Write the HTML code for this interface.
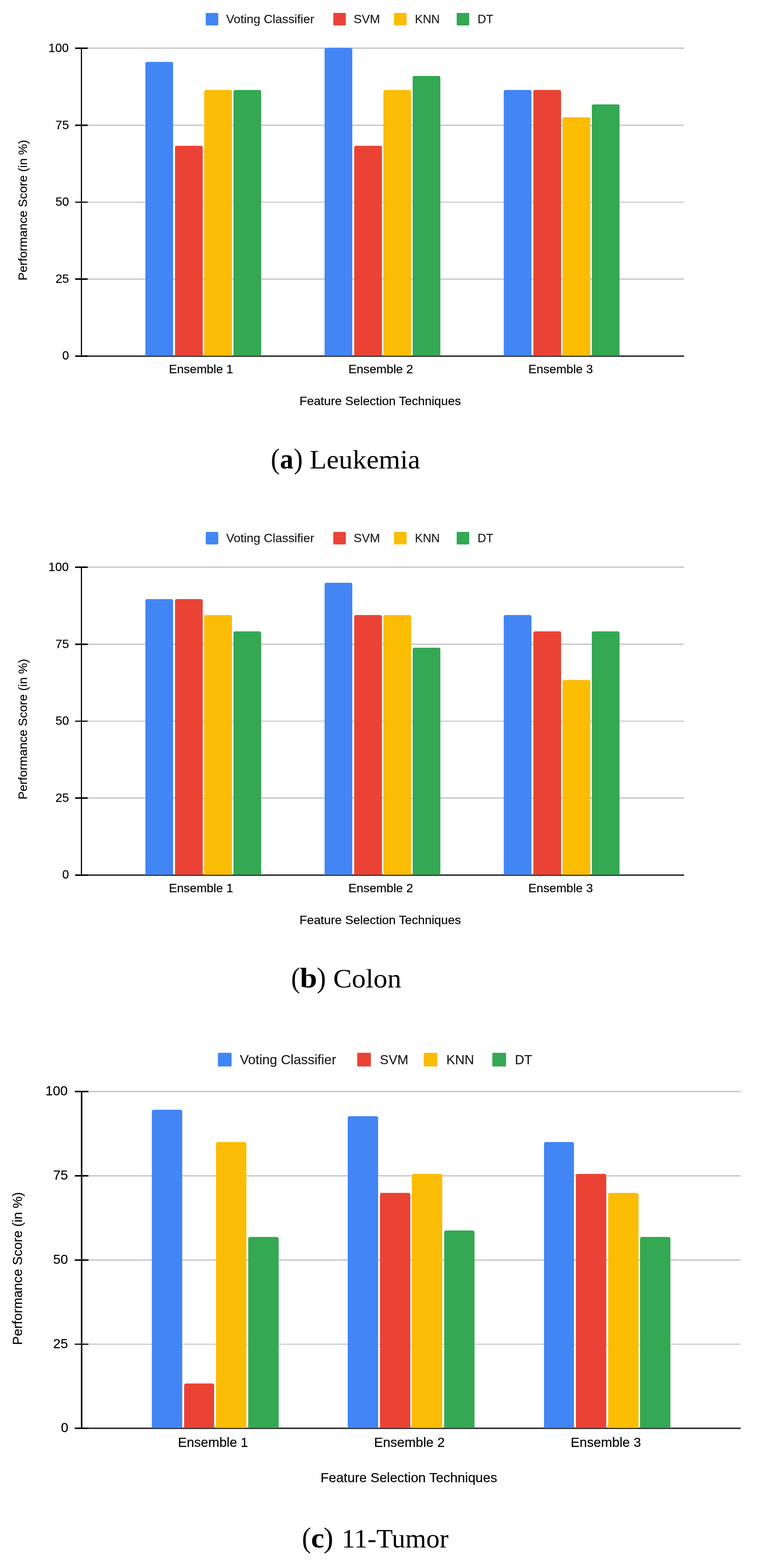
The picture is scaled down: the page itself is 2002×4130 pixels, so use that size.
<!DOCTYPE html>
<html lang="en">
<head>
<meta charset="utf-8">
<title>Performance of ensemble feature selection techniques</title>
<style>
html,body{margin:0;padding:0;background:#fff;}
body{width:2002px;height:4130px;overflow:hidden;}
svg{display:block;}
</style>
</head>
<body>
<svg width="2002" height="4130" viewBox="0 0 2002 4130" role="img" aria-label="Bar charts of performance score by feature selection technique">
<rect width="2002" height="4130" fill="#ffffff"/>
<g font-family="'Liberation Sans', Arial, Helvetica, sans-serif" font-size="32" stroke-width="0.25" stroke-linejoin="round">
<rect x="231" y="125" width="1571" height="4" fill="#cccccc"/>
<rect x="231" y="328" width="1571" height="4" fill="#cccccc"/>
<rect x="231" y="531" width="1571" height="3" fill="#cccccc"/>
<rect x="231" y="733" width="1571" height="4" fill="#cccccc"/>
<rect x="231" y="936" width="1571" height="4" fill="#333333"/>
<path fill="#4285f4" d="M383 937V167.3A4.3 4.3 0 0 1 387.3 163H451.7A4.3 4.3 0 0 1 456 167.3V937Z"/>
<path fill="#ea4335" d="M461 937V388.3A4.3 4.3 0 0 1 465.3 384H529.7A4.3 4.3 0 0 1 534 388.3V937Z"/>
<path fill="#fbbc04" d="M538 937V241.3A4.3 4.3 0 0 1 542.3 237H606.7A4.3 4.3 0 0 1 611 241.3V937Z"/>
<path fill="#34a853" d="M615 937V241.3A4.3 4.3 0 0 1 619.3 237H683.7A4.3 4.3 0 0 1 688 241.3V937Z"/>
<path fill="#4285f4" d="M855 937V130.3A4.3 4.3 0 0 1 859.3 126H923.7A4.3 4.3 0 0 1 928 130.3V937Z"/>
<path fill="#ea4335" d="M933 937V388.3A4.3 4.3 0 0 1 937.3 384H1001.7A4.3 4.3 0 0 1 1006 388.3V937Z"/>
<path fill="#fbbc04" d="M1010 937V241.3A4.3 4.3 0 0 1 1014.3 237H1078.7A4.3 4.3 0 0 1 1083 241.3V937Z"/>
<path fill="#34a853" d="M1087 937V204.3A4.3 4.3 0 0 1 1091.3 200H1155.7A4.3 4.3 0 0 1 1160 204.3V937Z"/>
<path fill="#4285f4" d="M1327 937V241.3A4.3 4.3 0 0 1 1331.3 237H1395.7A4.3 4.3 0 0 1 1400 241.3V937Z"/>
<path fill="#ea4335" d="M1405 937V241.3A4.3 4.3 0 0 1 1409.3 237H1473.7A4.3 4.3 0 0 1 1478 241.3V937Z"/>
<path fill="#fbbc04" d="M1482 937V313.3A4.3 4.3 0 0 1 1486.3 309H1550.7A4.3 4.3 0 0 1 1555 313.3V937Z"/>
<path fill="#34a853" d="M1559 937V279.3A4.3 4.3 0 0 1 1563.3 275H1627.7A4.3 4.3 0 0 1 1632 279.3V937Z"/>
<rect x="213" y="125" width="3" height="815" fill="#000000"/>
<rect x="198" y="125" width="33" height="4" fill="#000000"/>
<text x="181" y="136.5" text-anchor="end" fill="#000" stroke="#000">100</text>
<rect x="198" y="328" width="33" height="4" fill="#000000"/>
<text x="181.7" y="339.7" text-anchor="end" fill="#000" stroke="#000">75</text>
<rect x="198" y="531" width="33" height="3" fill="#000000"/>
<text x="181.8" y="542.3" text-anchor="end" fill="#000" stroke="#000">50</text>
<rect x="198" y="733" width="33" height="4" fill="#000000"/>
<text x="181.8" y="744.8" text-anchor="end" fill="#000" stroke="#000">25</text>
<rect x="198" y="936" width="33" height="4" fill="#000000"/>
<text x="181.8" y="947.1" text-anchor="end" fill="#000" stroke="#000">0</text>
<text x="444.96" y="982.9" textLength="168.99" lengthAdjust="spacingAndGlyphs" fill="#000" stroke="#000">Ensemble 1</text>
<text x="917.84" y="982.9" textLength="170.3" lengthAdjust="spacingAndGlyphs" fill="#000" stroke="#000">Ensemble 2</text>
<text x="1391.84" y="982.9" textLength="169.95" lengthAdjust="spacingAndGlyphs" fill="#000" stroke="#000">Ensemble 3</text>
<text x="788.93" y="1067.4" textLength="425.29" lengthAdjust="spacingAndGlyphs" fill="#000" stroke="#000">Feature Selection Techniques</text>
<g transform="translate(71 0) rotate(-90)"><text x="-738.85" y="0" textLength="370.22" lengthAdjust="spacingAndGlyphs" fill="#000" stroke="#000">Performance Score (in %)</text></g>
<rect x="542" y="34" width="33" height="33" rx="2.4" fill="#4285f4"/>
<text x="595.84" y="60.6" textLength="231.85" lengthAdjust="spacingAndGlyphs" fill="#1a1a1a" stroke="#1a1a1a">Voting Classifier</text>
<rect x="878" y="34" width="33" height="33" rx="2.4" fill="#ea4335"/>
<text x="931.56" y="60.6" textLength="69.47" lengthAdjust="spacingAndGlyphs" fill="#1a1a1a" stroke="#1a1a1a">SVM</text>
<rect x="1038" y="34" width="33" height="33" rx="2.4" fill="#fbbc04"/>
<text x="1093.04" y="60.6" textLength="65.48" lengthAdjust="spacingAndGlyphs" fill="#1a1a1a" stroke="#1a1a1a">KNN</text>
<rect x="1203" y="34" width="33" height="33" rx="2.4" fill="#34a853"/>
<text x="1258.03" y="60.6" textLength="41.48" lengthAdjust="spacingAndGlyphs" fill="#1a1a1a" stroke="#1a1a1a">DT</text>
</g>
<g font-family="'Liberation Sans', Arial, Helvetica, sans-serif" font-size="32" stroke-width="0.25" stroke-linejoin="round">
<rect x="231" y="1492" width="1571" height="4" fill="#cccccc"/>
<rect x="231" y="1695" width="1571" height="4" fill="#cccccc"/>
<rect x="231" y="1898" width="1571" height="3" fill="#cccccc"/>
<rect x="231" y="2100" width="1571" height="4" fill="#cccccc"/>
<rect x="231" y="2303" width="1571" height="4" fill="#333333"/>
<path fill="#4285f4" d="M383 2304V1582.3A4.3 4.3 0 0 1 387.3 1578H451.7A4.3 4.3 0 0 1 456 1582.3V2304Z"/>
<path fill="#ea4335" d="M461 2304V1582.3A4.3 4.3 0 0 1 465.3 1578H529.7A4.3 4.3 0 0 1 534 1582.3V2304Z"/>
<path fill="#fbbc04" d="M538 2304V1624.3A4.3 4.3 0 0 1 542.3 1620H606.7A4.3 4.3 0 0 1 611 1624.3V2304Z"/>
<path fill="#34a853" d="M615 2304V1667.3A4.3 4.3 0 0 1 619.3 1663H683.7A4.3 4.3 0 0 1 688 1667.3V2304Z"/>
<path fill="#4285f4" d="M855 2304V1539.3A4.3 4.3 0 0 1 859.3 1535H923.7A4.3 4.3 0 0 1 928 1539.3V2304Z"/>
<path fill="#ea4335" d="M933 2304V1624.3A4.3 4.3 0 0 1 937.3 1620H1001.7A4.3 4.3 0 0 1 1006 1624.3V2304Z"/>
<path fill="#fbbc04" d="M1010 2304V1624.3A4.3 4.3 0 0 1 1014.3 1620H1078.7A4.3 4.3 0 0 1 1083 1624.3V2304Z"/>
<path fill="#34a853" d="M1087 2304V1710.3A4.3 4.3 0 0 1 1091.3 1706H1155.7A4.3 4.3 0 0 1 1160 1710.3V2304Z"/>
<path fill="#4285f4" d="M1327 2304V1624.3A4.3 4.3 0 0 1 1331.3 1620H1395.7A4.3 4.3 0 0 1 1400 1624.3V2304Z"/>
<path fill="#ea4335" d="M1405 2304V1667.3A4.3 4.3 0 0 1 1409.3 1663H1473.7A4.3 4.3 0 0 1 1478 1667.3V2304Z"/>
<path fill="#fbbc04" d="M1482 2304V1795.3A4.3 4.3 0 0 1 1486.3 1791H1550.7A4.3 4.3 0 0 1 1555 1795.3V2304Z"/>
<path fill="#34a853" d="M1559 2304V1667.3A4.3 4.3 0 0 1 1563.3 1663H1627.7A4.3 4.3 0 0 1 1632 1667.3V2304Z"/>
<rect x="213" y="1492" width="3" height="815" fill="#000000"/>
<rect x="198" y="1492" width="33" height="4" fill="#000000"/>
<text x="181" y="1503.5" text-anchor="end" fill="#000" stroke="#000">100</text>
<rect x="198" y="1695" width="33" height="4" fill="#000000"/>
<text x="181.7" y="1706.7" text-anchor="end" fill="#000" stroke="#000">75</text>
<rect x="198" y="1898" width="33" height="3" fill="#000000"/>
<text x="181.8" y="1909.3" text-anchor="end" fill="#000" stroke="#000">50</text>
<rect x="198" y="2100" width="33" height="4" fill="#000000"/>
<text x="181.8" y="2111.8" text-anchor="end" fill="#000" stroke="#000">25</text>
<rect x="198" y="2303" width="33" height="4" fill="#000000"/>
<text x="181.8" y="2314.1" text-anchor="end" fill="#000" stroke="#000">0</text>
<text x="444.96" y="2349.9" textLength="168.99" lengthAdjust="spacingAndGlyphs" fill="#000" stroke="#000">Ensemble 1</text>
<text x="917.84" y="2349.9" textLength="170.3" lengthAdjust="spacingAndGlyphs" fill="#000" stroke="#000">Ensemble 2</text>
<text x="1391.84" y="2349.9" textLength="169.95" lengthAdjust="spacingAndGlyphs" fill="#000" stroke="#000">Ensemble 3</text>
<text x="788.93" y="2434.4" textLength="425.29" lengthAdjust="spacingAndGlyphs" fill="#000" stroke="#000">Feature Selection Techniques</text>
<g transform="translate(71 0) rotate(-90)"><text x="-2105.85" y="0" textLength="370.22" lengthAdjust="spacingAndGlyphs" fill="#000" stroke="#000">Performance Score (in %)</text></g>
<rect x="542" y="1401" width="33" height="33" rx="2.4" fill="#4285f4"/>
<text x="595.84" y="1427.6" textLength="231.85" lengthAdjust="spacingAndGlyphs" fill="#1a1a1a" stroke="#1a1a1a">Voting Classifier</text>
<rect x="878" y="1401" width="33" height="33" rx="2.4" fill="#ea4335"/>
<text x="931.56" y="1427.6" textLength="69.47" lengthAdjust="spacingAndGlyphs" fill="#1a1a1a" stroke="#1a1a1a">SVM</text>
<rect x="1038" y="1401" width="33" height="33" rx="2.4" fill="#fbbc04"/>
<text x="1093.04" y="1427.6" textLength="65.48" lengthAdjust="spacingAndGlyphs" fill="#1a1a1a" stroke="#1a1a1a">KNN</text>
<rect x="1203" y="1401" width="33" height="33" rx="2.4" fill="#34a853"/>
<text x="1258.03" y="1427.6" textLength="41.48" lengthAdjust="spacingAndGlyphs" fill="#1a1a1a" stroke="#1a1a1a">DT</text>
</g>
<g font-family="'Liberation Sans', Arial, Helvetica, sans-serif" font-size="35" stroke-width="0.25" stroke-linejoin="round">
<rect x="233" y="2873" width="1718" height="4" fill="#cccccc"/>
<rect x="233" y="3095" width="1718" height="4" fill="#cccccc"/>
<rect x="233" y="3317" width="1718" height="4" fill="#cccccc"/>
<rect x="233" y="3539" width="1718" height="3" fill="#cccccc"/>
<rect x="233" y="3760" width="1718" height="4" fill="#333333"/>
<path fill="#4285f4" d="M400 3761V2927.7A4.7 4.7 0 0 1 404.7 2923H475.3A4.7 4.7 0 0 1 480 2927.7V3761Z"/>
<path fill="#ea4335" d="M485 3761V3648.7A4.7 4.7 0 0 1 489.7 3644H559.3A4.7 4.7 0 0 1 564 3648.7V3761Z"/>
<path fill="#fbbc04" d="M569 3761V3012.7A4.7 4.7 0 0 1 573.7 3008H644.3A4.7 4.7 0 0 1 649 3012.7V3761Z"/>
<path fill="#34a853" d="M654 3761V3262.7A4.7 4.7 0 0 1 658.7 3258H729.3A4.7 4.7 0 0 1 734 3262.7V3761Z"/>
<path fill="#4285f4" d="M916 3761V2944.7A4.7 4.7 0 0 1 920.7 2940H991.3A4.7 4.7 0 0 1 996 2944.7V3761Z"/>
<path fill="#ea4335" d="M1001 3761V3146.7A4.7 4.7 0 0 1 1005.7 3142H1076.3A4.7 4.7 0 0 1 1081 3146.7V3761Z"/>
<path fill="#fbbc04" d="M1085 3761V3096.7A4.7 4.7 0 0 1 1089.7 3092H1160.3A4.7 4.7 0 0 1 1165 3096.7V3761Z"/>
<path fill="#34a853" d="M1170 3761V3245.7A4.7 4.7 0 0 1 1174.7 3241H1245.3A4.7 4.7 0 0 1 1250 3245.7V3761Z"/>
<path fill="#4285f4" d="M1433 3761V3012.7A4.7 4.7 0 0 1 1437.7 3008H1507.3A4.7 4.7 0 0 1 1512 3012.7V3761Z"/>
<path fill="#ea4335" d="M1517 3761V3096.7A4.7 4.7 0 0 1 1521.7 3092H1592.3A4.7 4.7 0 0 1 1597 3096.7V3761Z"/>
<path fill="#fbbc04" d="M1602 3761V3146.7A4.7 4.7 0 0 1 1606.7 3142H1677.3A4.7 4.7 0 0 1 1682 3146.7V3761Z"/>
<path fill="#34a853" d="M1686 3761V3262.7A4.7 4.7 0 0 1 1690.7 3258H1761.3A4.7 4.7 0 0 1 1766 3262.7V3761Z"/>
<rect x="213" y="2873" width="4" height="891" fill="#000000"/>
<rect x="197" y="2873" width="36" height="4" fill="#000000"/>
<text x="178.2" y="2884.6" text-anchor="end" fill="#000" stroke="#000">100</text>
<rect x="197" y="3095" width="36" height="4" fill="#000000"/>
<text x="178.9" y="3107" text-anchor="end" fill="#000" stroke="#000">75</text>
<rect x="197" y="3317" width="36" height="4" fill="#000000"/>
<text x="179" y="3329" text-anchor="end" fill="#000" stroke="#000">50</text>
<rect x="197" y="3539" width="36" height="3" fill="#000000"/>
<text x="179" y="3550.5" text-anchor="end" fill="#000" stroke="#000">25</text>
<rect x="197" y="3760" width="36" height="4" fill="#000000"/>
<text x="180" y="3772.3" text-anchor="end" fill="#000" stroke="#000">0</text>
<text x="468.71" y="3811" textLength="184.83" lengthAdjust="spacingAndGlyphs" fill="#000" stroke="#000">Ensemble 1</text>
<text x="985.29" y="3811" textLength="186.31" lengthAdjust="spacingAndGlyphs" fill="#000" stroke="#000">Ensemble 2</text>
<text x="1503.31" y="3811" textLength="185.22" lengthAdjust="spacingAndGlyphs" fill="#000" stroke="#000">Ensemble 3</text>
<text x="844.38" y="3903.8" textLength="465.25" lengthAdjust="spacingAndGlyphs" fill="#000" stroke="#000">Feature Selection Techniques</text>
<g transform="translate(58 0) rotate(-90)"><text x="-3542.69" y="0" textLength="402.94" lengthAdjust="spacingAndGlyphs" fill="#000" stroke="#000">Performance Score (in %)</text></g>
<rect x="574" y="2773" width="36" height="36" rx="2.6" fill="#4285f4"/>
<text x="631.82" y="2802.5" textLength="253.71" lengthAdjust="spacingAndGlyphs" fill="#1a1a1a" stroke="#1a1a1a">Voting Classifier</text>
<rect x="941" y="2773" width="36" height="36" rx="2.6" fill="#ea4335"/>
<text x="1000.43" y="2802.5" textLength="75.42" lengthAdjust="spacingAndGlyphs" fill="#1a1a1a" stroke="#1a1a1a">SVM</text>
<rect x="1116" y="2773" width="36" height="36" rx="2.6" fill="#fbbc04"/>
<text x="1175.64" y="2802.5" textLength="73.18" lengthAdjust="spacingAndGlyphs" fill="#1a1a1a" stroke="#1a1a1a">KNN</text>
<rect x="1297" y="2773" width="36" height="36" rx="2.6" fill="#34a853"/>
<text x="1356.18" y="2802.5" textLength="45.61" lengthAdjust="spacingAndGlyphs" fill="#1a1a1a" stroke="#1a1a1a">DT</text>
</g>
<text y="1234" font-family="'Liberation Serif', 'Times New Roman', Times, serif" font-size="70.5" fill="#000"><tspan x="713.29" font-size="76" textLength="23.77" lengthAdjust="spacingAndGlyphs">(</tspan><tspan x="737.4" font-size="73" font-weight="bold" textLength="35.36" lengthAdjust="spacingAndGlyphs">a</tspan><tspan x="773.67" font-size="76" textLength="23.92" lengthAdjust="spacingAndGlyphs">)</tspan> <tspan x="815.82" textLength="291.04" lengthAdjust="spacingAndGlyphs">Leukemia</tspan></text>
<text y="2601" font-family="'Liberation Serif', 'Times New Roman', Times, serif" font-size="70.5" fill="#000"><tspan x="766.75" font-size="76" textLength="24.03" lengthAdjust="spacingAndGlyphs">(</tspan><tspan x="789.98" font-size="75" font-weight="bold" textLength="45.38" lengthAdjust="spacingAndGlyphs">b</tspan><tspan x="834.2" font-size="76" textLength="24.57" lengthAdjust="spacingAndGlyphs">)</tspan> <tspan x="877.76" textLength="179.53" lengthAdjust="spacingAndGlyphs">Colon</tspan></text>
<text y="4075.8" font-family="'Liberation Serif', 'Times New Roman', Times, serif" font-size="70.5" fill="#000"><tspan x="795.24" font-size="76" textLength="24.16" lengthAdjust="spacingAndGlyphs">(</tspan><tspan x="819.25" font-size="73" font-weight="bold" textLength="34.93" lengthAdjust="spacingAndGlyphs">c</tspan><tspan x="852.05" font-size="76" textLength="26.12" lengthAdjust="spacingAndGlyphs">)</tspan> <tspan x="899.91" textLength="281.72" lengthAdjust="spacingAndGlyphs">11-Tumor</tspan></text>
</svg>
</body>
</html>
